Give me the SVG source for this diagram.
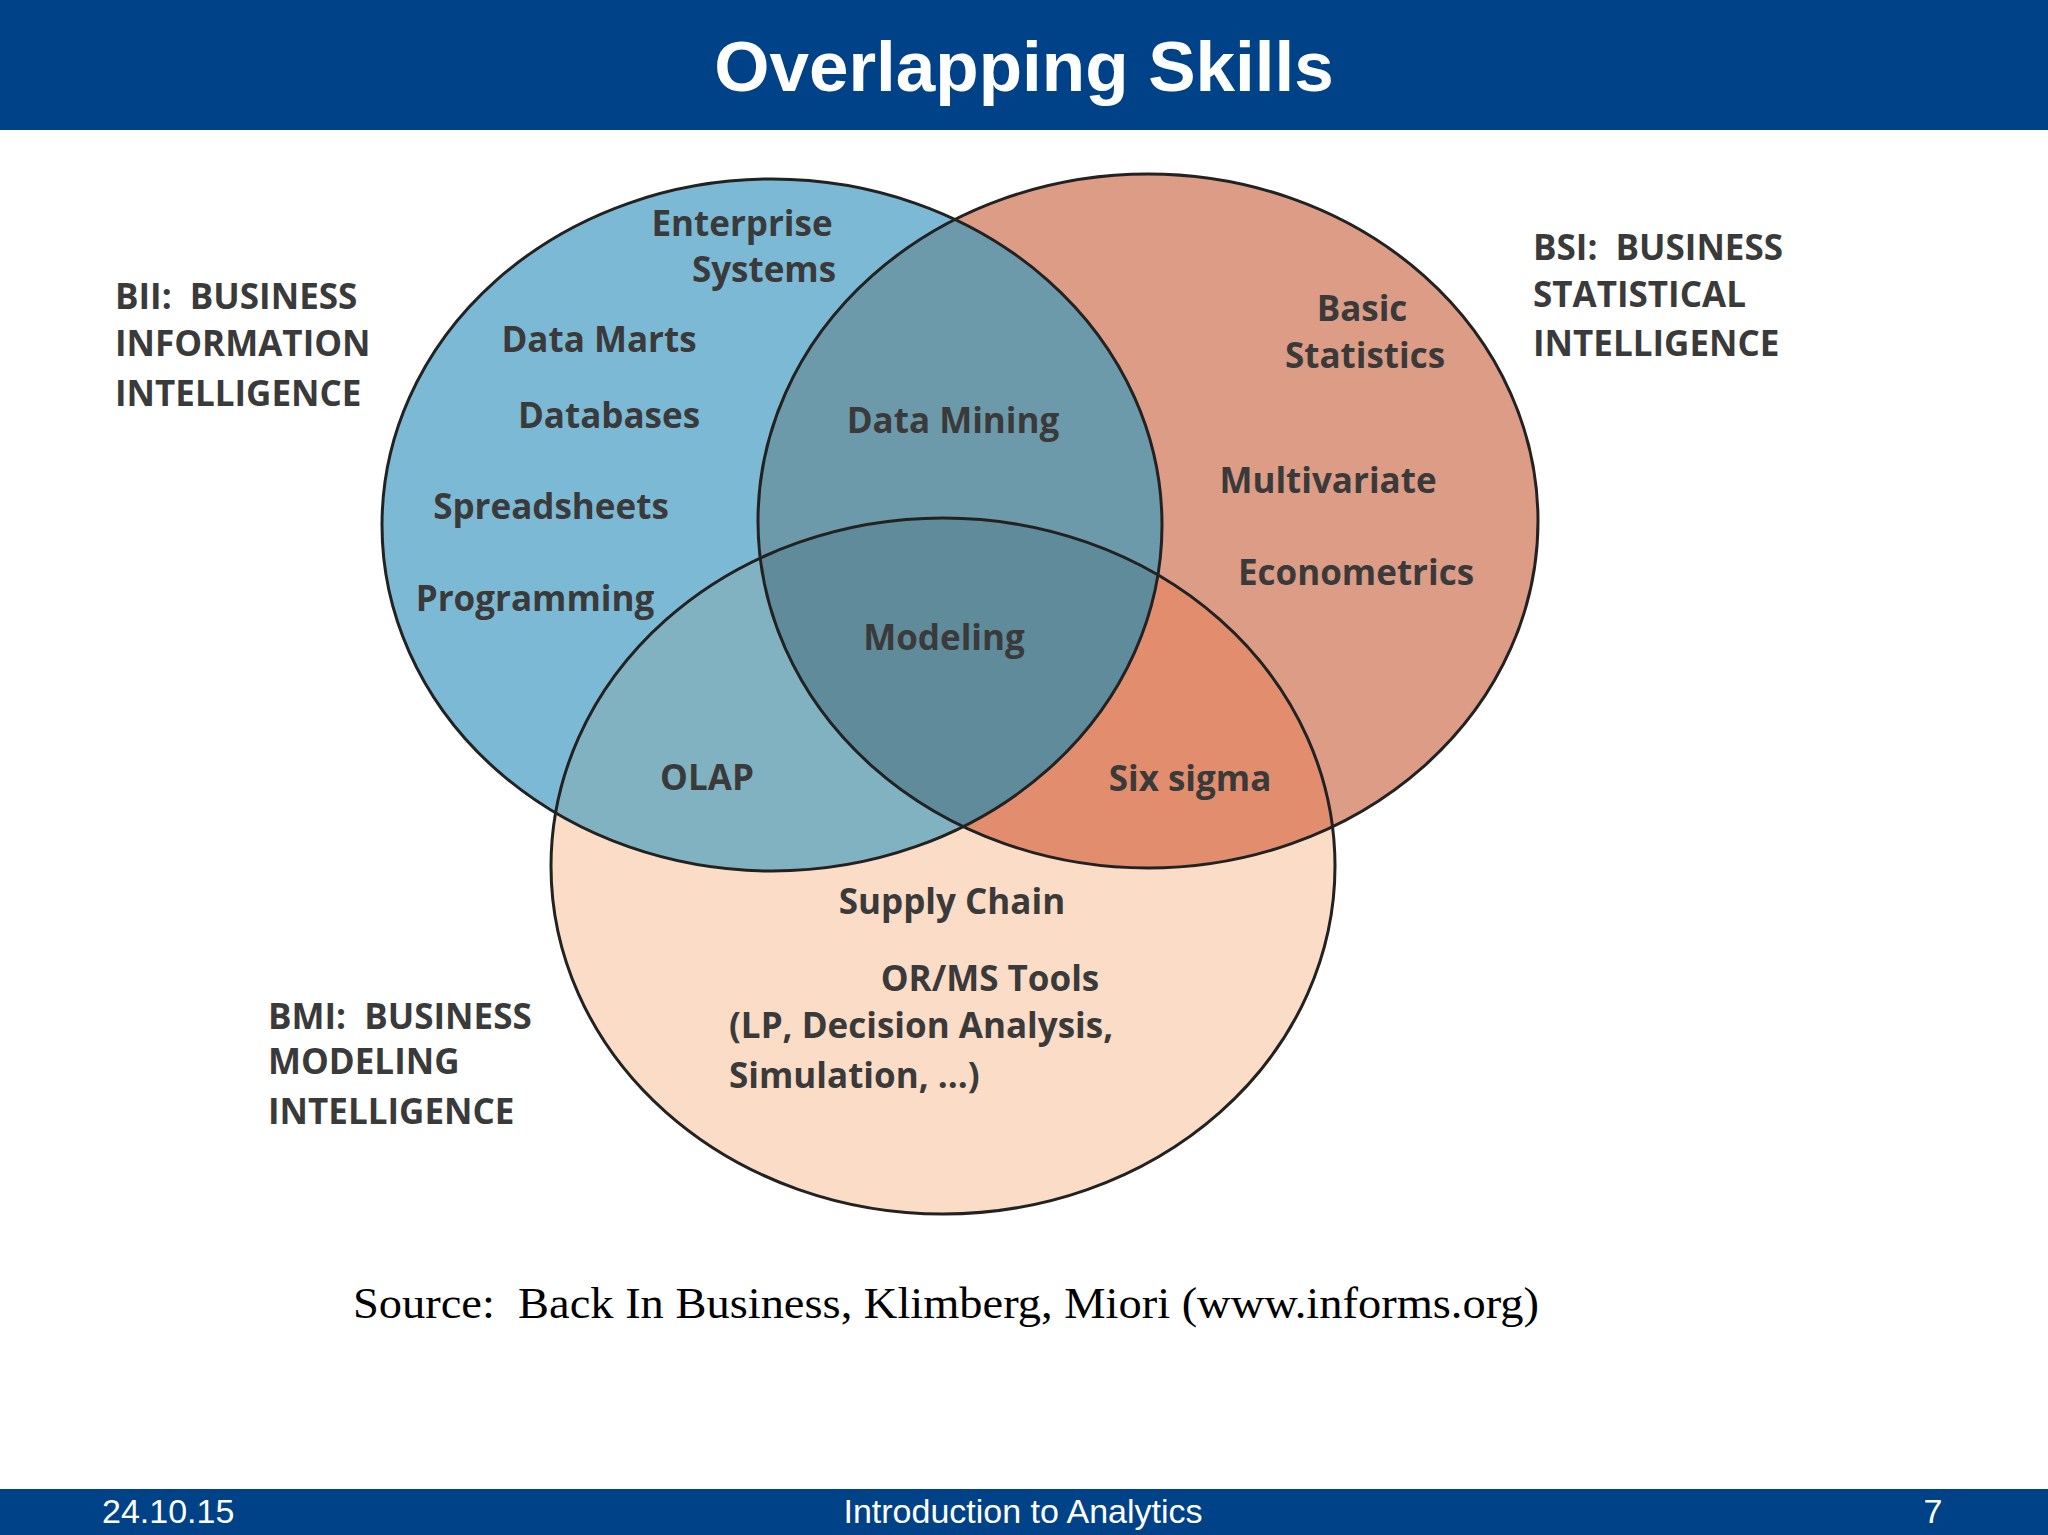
<svg xmlns="http://www.w3.org/2000/svg" width="2048" height="1535" viewBox="0 0 2048 1535">
<style>
text{white-space:pre}
.t{font-family:"Open Sans","Liberation Sans",sans-serif;font-weight:bold;font-size:35px;fill:#3a3a3a;dominant-baseline:central}
.c{text-anchor:middle}
.e{fill:none;stroke:#222;stroke-width:3}
.f{font-family:"Liberation Sans",Arial,sans-serif;font-size:34px;fill:#fff;dominant-baseline:central}
</style>
<defs>
<clipPath id="cb"><ellipse cx="772" cy="525" rx="390" ry="346"/></clipPath>
<clipPath id="cr"><ellipse cx="1148" cy="521" rx="390" ry="347"/></clipPath>
<clipPath id="cp"><ellipse cx="943" cy="866" rx="392" ry="348"/></clipPath>
</defs>
<rect width="2048" height="1535" fill="#fff"/>
<rect id="header" width="2048" height="130" fill="#004288"/>
<text x="1024" y="66" text-anchor="middle" dominant-baseline="central" font-family="Liberation Sans,Arial,sans-serif" font-weight="bold" font-size="71" fill="#fff">Overlapping Skills</text>
<g id="venn">
<ellipse cx="943" cy="866" rx="392" ry="348" fill="#fbdcc6"/>
<ellipse cx="1148" cy="521" rx="390" ry="347" fill="#dc9c86"/>
<ellipse cx="772" cy="525" rx="390" ry="346" fill="#7cb9d4"/>
<ellipse cx="1148" cy="521" rx="390" ry="347" fill="#e28e6e" clip-path="url(#cp)"/>
<ellipse cx="772" cy="525" rx="390" ry="346" fill="#80b2c2" clip-path="url(#cp)"/>
<ellipse cx="772" cy="525" rx="390" ry="346" fill="#6d9aab" clip-path="url(#cr)"/>
<g clip-path="url(#cp)"><ellipse cx="772" cy="525" rx="390" ry="346" fill="#5f8b9b" clip-path="url(#cr)"/></g>
<ellipse class="e" cx="943" cy="866" rx="392" ry="348"/>
<ellipse class="e" cx="1148" cy="521" rx="390" ry="347"/>
<ellipse class="e" cx="772" cy="525" rx="390" ry="346"/>
</g>
<g id="labels">
<text class="t c" x="742" y="222">Enterprise</text>
<text class="t c" x="764" y="268">Systems</text>
<text class="t c" x="599" y="338">Data Marts</text>
<text class="t c" x="609" y="414">Databases</text>
<text class="t c" x="551" y="505">Spreadsheets</text>
<text class="t c" x="535" y="597">Programming</text>
<text class="t c" x="953" y="419">Data Mining</text>
<text class="t c" x="944" y="636">Modeling</text>
<text class="t c" x="707" y="776">OLAP</text>
<text class="t c" x="1190" y="777">Six sigma</text>
<text class="t c" x="1362" y="307">Basic</text>
<text class="t c" x="1365" y="354">Statistics</text>
<text class="t c" x="1328" y="479">Multivariate</text>
<text class="t c" x="1356" y="571">Econometrics</text>
<text class="t c" x="952" y="900">Supply Chain</text>
<text class="t c" x="990" y="977">OR/MS Tools</text>
<text class="t" x="729" y="1024">(LP, Decision Analysis,</text>
<text class="t" x="729" y="1074">Simulation, ...)</text>
<text class="t" x="115" y="295">BII:  BUSINESS</text>
<text class="t" x="115" y="342">INFORMATION</text>
<text class="t" x="115" y="392">INTELLIGENCE</text>
<text class="t" x="1533" y="246">BSI:  BUSINESS</text>
<text class="t" x="1533" y="293">STATISTICAL</text>
<text class="t" x="1533" y="342">INTELLIGENCE</text>
<text class="t" x="268" y="1015">BMI:  BUSINESS</text>
<text class="t" x="268" y="1060">MODELING</text>
<text class="t" x="268" y="1110">INTELLIGENCE</text>
</g>
<text x="353" y="1303" dominant-baseline="central" font-family="Liberation Serif,serif" font-size="45" textLength="1186" lengthAdjust="spacingAndGlyphs" fill="#000">Source:  Back In Business, Klimberg, Miori (www.informs.org)</text>
<rect id="footer" y="1489" width="2048" height="46" fill="#004288"/>
<text class="f" x="102" y="1511">24.10.15</text>
<text class="f" x="1023" y="1511" text-anchor="middle">Introduction to Analytics</text>
<text class="f" x="1933" y="1511" text-anchor="middle">7</text>
</svg>
